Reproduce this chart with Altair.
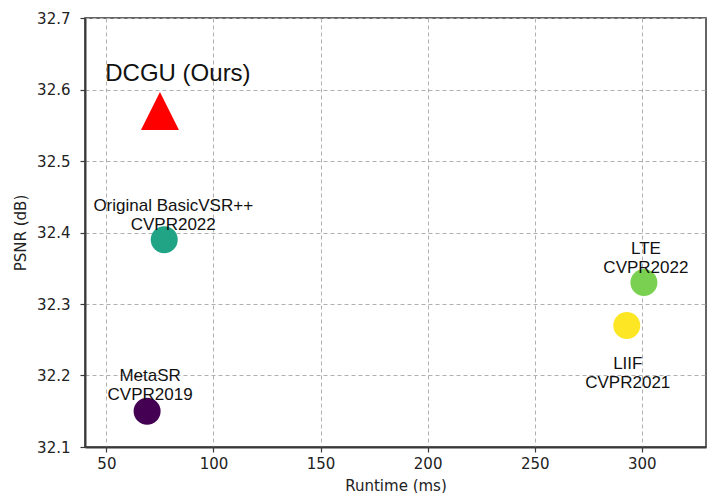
import altair as alt
import pandas as pd

methods = ["DCGU (Ours)", "Original BasicVSR++", "MetaSR", "LTE", "LIIF"]
venues = ["", "CVPR2022", "CVPR2019", "CVPR2022", "CVPR2021"]
runtime = [75, 77, 69, 301, 293]
psnr = [32.57, 32.39, 32.15, 32.33, 32.27]
colors = ["#ff0000", "#21a386", "#440154", "#7ad151", "#fde725"]

x_ticks = [50, 100, 150, 200, 250, 300]
y_ticks = [32.1, 32.2, 32.3, 32.4, 32.5, 32.6, 32.7]

df = pd.DataFrame({
    "method": methods,
    "venue": venues,
    "runtime": runtime,
    "psnr": psnr,
    "color": colors,
})
df["label"] = [m + ("\n" + v if v else "") for m, v in zip(methods, venues)]

FONT = "Liberation Sans"
AXFONT = "DejaVu Sans"

x = alt.X("runtime:Q", scale=alt.Scale(domain=[40, 330], nice=False, zero=False),
          axis=alt.Axis(values=x_ticks, title="Runtime (ms)", format="d"))
y = alt.Y("psnr:Q", scale=alt.Scale(domain=[32.1, 32.7], nice=False, zero=False),
          axis=alt.Axis(values=y_ticks, title="PSNR (dB)", format=".1f"))

base = alt.Chart(df).encode(x=x, y=y)

circles = base.transform_filter(alt.datum.method != "DCGU (Ours)").mark_point(
    shape="circle", filled=True, size=729, opacity=1
).encode(color=alt.Color("color:N", scale=None))

tri = base.transform_filter(alt.datum.method == "DCGU (Ours)").mark_point(
    shape="M0,-1L1,1L-1,1Z", filled=True, size=1444, opacity=1
).encode(color=alt.Color("color:N", scale=None))

lab_kw = dict(font=FONT, fontSize=17, color="#111111", lineBreak="\n",
              baseline="middle", align="center", lineHeight=19)

lab_dcgu = base.transform_filter(alt.datum.method == "DCGU (Ours)").mark_text(
    font=FONT, fontSize=24, color="#111111", dx=18, dy=-37, baseline="middle", align="center"
).encode(text="label:N")

lab_basic = base.transform_filter(alt.datum.method == "Original BasicVSR++").mark_text(
    dx=9, dy=-34, **lab_kw
).encode(text="label:N")

lab_meta = base.transform_filter(alt.datum.method == "MetaSR").mark_text(
    dx=3, dy=-35, **lab_kw
).encode(text="label:N")

lab_lte = base.transform_filter(alt.datum.method == "LTE").mark_text(
    dx=2, dy=-34, **lab_kw
).encode(text="label:N")

lab_liif = base.transform_filter(alt.datum.method == "LIIF").mark_text(
    dx=1, dy=39, **lab_kw
).encode(text="label:N")

chart = alt.layer(circles, tri, lab_dcgu, lab_basic, lab_meta, lab_lte, lab_liif).properties(
    width=621, height=429,
    autosize=alt.AutoSizeParams(type="none"),
    padding={"left": 77, "top": 10, "right": 10, "bottom": 46},
).configure_view(
    stroke="#333333", strokeWidth=1.5
).configure_axis(
    grid=True, gridColor="#b0b0b0", gridDash=[4, 3], gridWidth=1,
    domainColor="#3a3a3a", domainWidth=2,
    tickColor="#3a3a3a", tickSize=5, tickWidth=1.2,
    labelFont=AXFONT, labelFontSize=15, labelColor="#222222",
    titleFont=AXFONT, titleFontSize=15, titleFontWeight="normal", titleColor="#222222",
).configure_axisY(labelPadding=10, titlePadding=8).configure_axisX(labelPadding=4, titlePadding=7)

chart.save("out.html", embed_options={"renderer": "svg", "actions": False})
